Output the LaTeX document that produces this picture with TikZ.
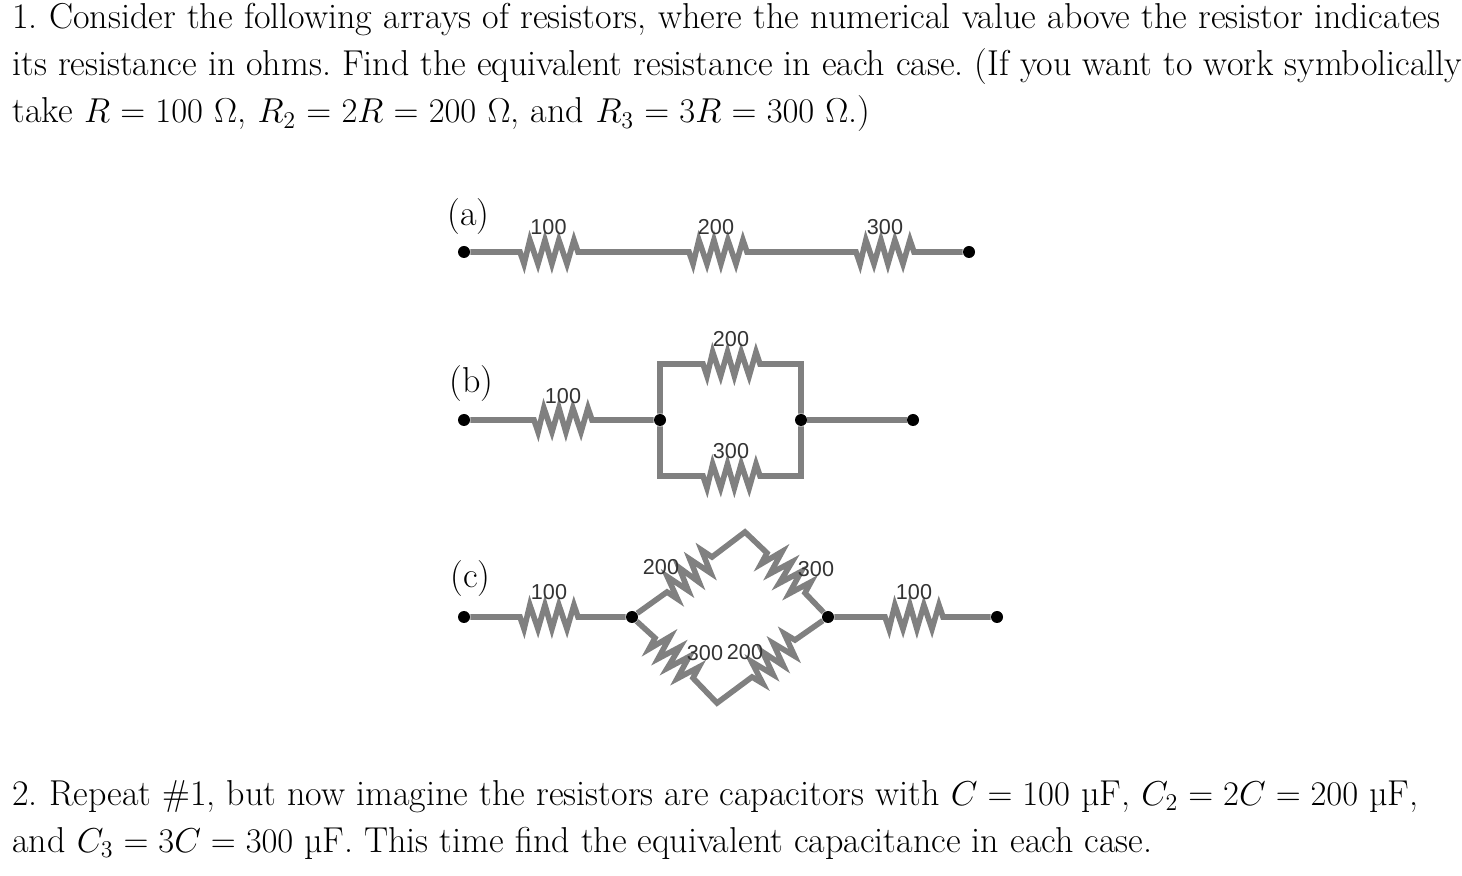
\documentclass[tikz,border=0pt]{standalone}
\usepackage{fontspec}
\usetikzlibrary{calc}
\newfontfamily\labelfont{Liberation Sans}
\tikzset{
  wire/.style={draw=wiregray,line width=2.8pt,miter limit=10},
  jdot/.style={circle,fill=black,inner sep=0pt,minimum size=6pt},
  rlabel/.style={font=\labelfont\fontsize{10.8}{12}\selectfont,text=labelgray,inner sep=0pt},
  textline/.style={anchor=base west,inner sep=0pt,font=\fontsize{18}{20}\selectfont\frenchspacing},
  resistor/.style={to path={
    -- ($(\tikztostart)!.07!(\tikztotarget)!6pt!-90:(\tikztotarget)$)
    -- ($(\tikztostart)!.17!(\tikztotarget)!6pt!90:(\tikztotarget)$)
    -- ($(\tikztostart)!.31!(\tikztotarget)!6pt!-90:(\tikztotarget)$)
    -- ($(\tikztostart)!.43!(\tikztotarget)!6pt!90:(\tikztotarget)$)
    -- ($(\tikztostart)!.55!(\tikztotarget)!6pt!-90:(\tikztotarget)$)
    -- ($(\tikztostart)!.67!(\tikztotarget)!6pt!90:(\tikztotarget)$)
    -- ($(\tikztostart)!.81!(\tikztotarget)!6pt!-90:(\tikztotarget)$)
    -- ($(\tikztostart)!.93!(\tikztotarget)!6pt!90:(\tikztotarget)$)
    -- (\tikztotarget)}}
}
\definecolor{wiregray}{gray}{0.5}
\definecolor{labelgray}{gray}{0.2}
\begin{document}
\begin{tikzpicture}[x=0.5pt,y=-0.5pt]
\useasboundingbox (0,0) rectangle (1462,876);
% text
\node[textline] (t1) at (12,29) {\makebox[714pt][s]{1. Consider the following arrays of resistors, where the numerical value above the resistor indicates}};
\node[textline] (t2) at (12,76) {\makebox[725pt][s]{its resistance in ohms. Find the equivalent resistance in each case. (If you want to work symbolically}};
\node[textline] (t3) at (12,123) {\makebox[429pt][s]{take $R=100\ \Omega$, $R_2=2R=200\ \Omega$, and $R_3=3R=300\ \Omega$.)}};
\node[textline] (t4) at (12,805) {\makebox[703pt][s]{2. Repeat \#1, but now imagine the resistors are capacitors with $C=100$ µF, $C_2=2C=200$ µF,}};
\node[textline] (t5) at (12,852) {\makebox[570pt][s]{and $C_3=3C=300$ µF. This time find the equivalent capacitance in each case.}};
\node[textline] (la) at (447,226) {(a)};
\node[textline] (lb) at (449,393) {(b)};
\node[textline] (lc) at (450,588) {(c)};
% (a)
\node[jdot] (a0) at (464,252) {};
\node[jdot] (a1) at (969,252) {};
\coordinate (ar1s) at (520,252); \coordinate (ar1e) at (578,252);
\coordinate (ar2s) at (689,252); \coordinate (ar2e) at (747,252);
\coordinate (ar3s) at (856,252); \coordinate (ar3e) at (914,252);
\draw[wire] (a0) -- (ar1s) to[resistor] (ar1e) -- (ar2s) to[resistor] (ar2e) -- (ar3s) to[resistor] (ar3e) -- (a1);
\node[rlabel] (al1) at (548.5,227) {100};
\node[rlabel] (al2) at (716,227) {200};
\node[rlabel] (al3) at (885,227) {300};
% (b)
\node[jdot] (b0) at (464,420) {};
\node[jdot] (bl) at (660,420) {};
\node[jdot] (br) at (801,420) {};
\node[jdot] (b1) at (913,420) {};
\coordinate (br1s) at (534,420); \coordinate (br1e) at (592,420);
\coordinate (btl) at (660,364); \coordinate (btr) at (801,364);
\coordinate (bbl) at (660,476); \coordinate (bbr) at (801,476);
\coordinate (bts) at (703,364); \coordinate (bte) at (760,364);
\coordinate (bbs) at (703,476); \coordinate (bbe) at (760,476);
\draw[wire] (b0) -- (br1s) to[resistor] (br1e) -- (bl);
\draw[wire] (br) -- (b1);
\draw[wire] (bl) -- (btl) -- (bts) to[resistor] (bte) -- (btr) -- (br);
\draw[wire] (bl) -- (bbl) -- (bbs) to[resistor] (bbe) -- (bbr) -- (br);
\node[rlabel] (bl1) at (563,396) {100};
\node[rlabel] (bl2) at (731,339) {200};
\node[rlabel] (bl3) at (731,451) {300};
% (c)
\node[jdot] (c0) at (464,617) {};
\node[jdot] (cl) at (632,617) {};
\node[jdot] (cr) at (828,617) {};
\node[jdot] (c1) at (997,617) {};
\coordinate (cr1s) at (520,617); \coordinate (cr1e) at (578,617);
\coordinate (cr2s) at (885,617); \coordinate (cr2e) at (943,617);
\coordinate (ctop) at (745,532); \coordinate (cbot) at (717,703);
\coordinate (c1s) at (667,592); \coordinate (c1e) at (712,557);
\coordinate (c2s) at (767,553); \coordinate (c2e) at (805,593);
\coordinate (c3s) at (655,638); \coordinate (c3e) at (693,678);
\coordinate (c4s) at (752,677); \coordinate (c4e) at (795,640);
\draw[wire] (c0) -- (cr1s) to[resistor] (cr1e) -- (cl);
\draw[wire] (cr) -- (cr2s) to[resistor] (cr2e) -- (c1);
\draw[wire] (cl) -- (c1s) to[resistor] (c1e) -- (ctop) -- (c2s) to[resistor] (c2e) -- (cr);
\draw[wire] (cl) -- (c3s) to[resistor] (c3e) -- (cbot) -- (c4s) to[resistor] (c4e) -- (cr);
\node[rlabel] (cl1) at (549,592) {100};
\node[rlabel] (cl2) at (914,592) {100};
\node[rlabel] (cl3) at (661,567) {200};
\node[rlabel] (cl4) at (816,569) {300};
\node[rlabel] (cl5) at (705,653) {300};
\node[rlabel] (cl6) at (745,652) {200};
\end{tikzpicture}
\end{document}
